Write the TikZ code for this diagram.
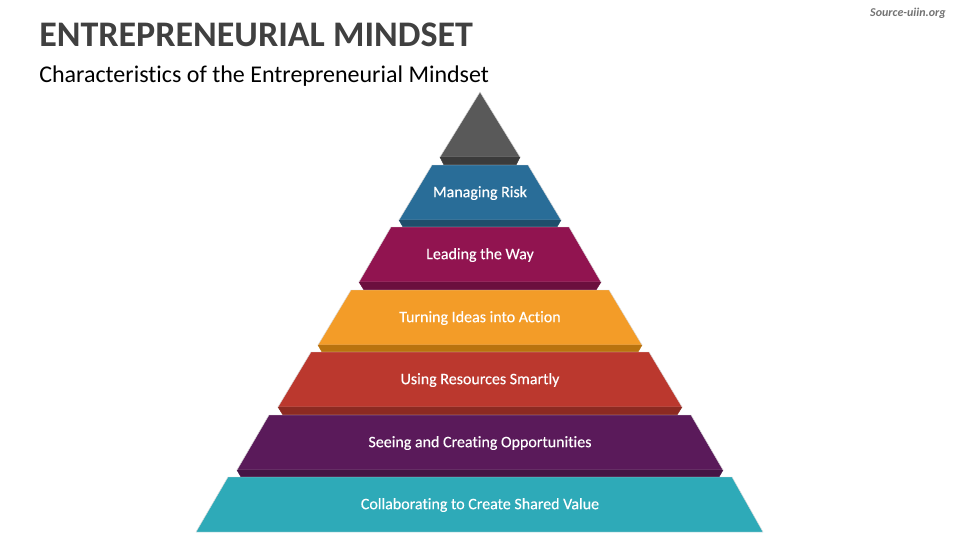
\documentclass[tikz,border=0pt]{standalone}
\usepackage{fontspec}
\setmainfont[Ligatures=NoCommon]{Carlito}
\newfontfamily\labelfont[Ligatures=NoCommon,FakeBold=0.25]{Carlito}
\definecolor{tipface}{HTML}{595959}
\definecolor{tipside}{HTML}{3B3B3B}
\definecolor{riskface}{HTML}{296D98}
\definecolor{riskside}{HTML}{1F4E6B}
\definecolor{leadface}{HTML}{911450}
\definecolor{leadside}{HTML}{6B0F3E}
\definecolor{ideaface}{HTML}{F39C28}
\definecolor{ideaside}{HTML}{B9730F}
\definecolor{usingface}{HTML}{BB382E}
\definecolor{usingside}{HTML}{8C2A22}
\definecolor{seeface}{HTML}{5A1A5A}
\definecolor{seeside}{HTML}{451545}
\definecolor{shareface}{HTML}{2EAAB8}
\tikzset{
	slab/.style={fill=#1, draw=black!14, line width=0.35pt},
	rim/.style={fill=#1, draw=#1, line width=0.35pt},
	label/.style={text=white, font=\labelfont\fontsize{12}{14}\selectfont, inner sep=0.75pt}
}
\begin{document}
\begin{tikzpicture}[x=0.75pt,y=0.75pt,yscale=-1,xscale=1]
	\useasboundingbox (0,0) rectangle (960,540);

	%Shape: Triangle top
	\draw [slab=tipface] (480,92) -- (520,157) -- (440,157) -- cycle ;
	\draw [rim=tipside] (440,157) -- (520,157) -- (516,165) -- (444,165) -- cycle ;
	%Shape: Trapezoid risk
	\draw [slab=riskface] (432,165) -- (528,165) -- (561,220) -- (399,220) -- cycle ;
	\draw [rim=riskside] (399,220) -- (561,220) -- (557,227) -- (403,227) -- cycle ;
	%Shape: Trapezoid lead
	\draw [slab=leadface] (391,227) -- (569,227) -- (601,282) -- (359,282) -- cycle ;
	\draw [rim=leadside] (359,282) -- (601,282) -- (596,290) -- (364,290) -- cycle ;
	%Shape: Trapezoid idea
	\draw [slab=ideaface] (351,290) -- (609,290) -- (642,345) -- (318,345) -- cycle ;
	\draw [rim=ideaside] (318,345) -- (642,345) -- (638,352) -- (322,352) -- cycle ;
	%Shape: Trapezoid using
	\draw [slab=usingface] (311,352) -- (649,352) -- (682,407) -- (278,407) -- cycle ;
	\draw [rim=usingside] (278,407) -- (682,407) -- (677,415) -- (283,415) -- cycle ;
	%Shape: Trapezoid see
	\draw [slab=seeface] (269,415) -- (691,415) -- (723,470) -- (237,470) -- cycle ;
	\draw [rim=seeside] (237,470) -- (723,470) -- (719,477) -- (241,477) -- cycle ;
	%Shape: Trapezoid share
	\draw [slab=shareface] (228,477) -- (732,477) -- (763,532) -- (196,532) -- cycle ;

	% Text Node
	\node (risk) [label] at (480,193) {Managing Risk};
	% Text Node
	\node (lead) [label] at (480,255) {Leading the Way};
	% Text Node
	\node (idea) [label] at (480,318) {Turning Ideas into Action};
	% Text Node
	\node (using) [label] at (480,380) {Using Resources Smartly};
	% Text Node
	\node (see) [label] at (480,443) {Seeing and Creating Opportunities};
	% Text Node
	\node (share) [label] at (480,505) {Collaborating to Create Shared Value};

	% Text Node
	\node (title) [anchor=west, inner sep=0pt, text=black!75, font=\fontsize{27}{30}\selectfont\bfseries] at (39,35) {ENTREPRENEURIAL MINDSET};
	% Text Node
	\node (subtitle) [anchor=west, inner sep=0pt, font=\fontsize{18}{22}\selectfont] at (39,76) {Characteristics of the Entrepreneurial Mindset};
	% Text Node
	\node (source) [anchor=east, inner sep=0pt, text=black!55, font=\fontsize{9}{11}\selectfont\bfseries\itshape] at (946,13) {Source-uiin.org};
\end{tikzpicture}
\end{document}
